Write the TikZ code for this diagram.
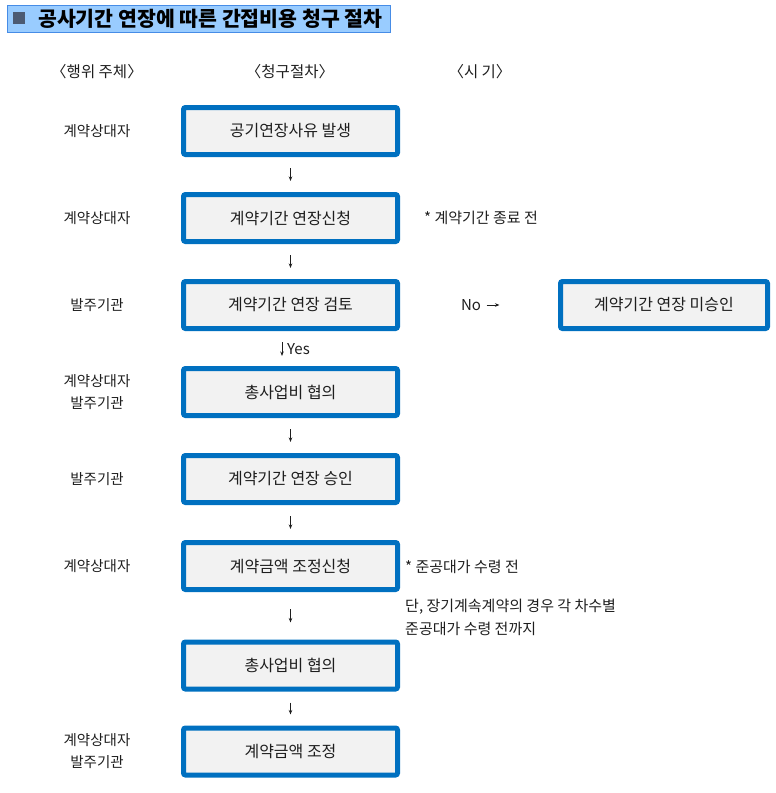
\documentclass[tikz,border=0pt]{standalone}
\usepackage{fontspec}
\setmainfont{Noto Sans CJK KR}
\usetikzlibrary{positioning,arrows.meta,calc}
\definecolor{boxblue}{RGB}{0,112,192}
\definecolor{boxfill}{RGB}{242,242,242}
\definecolor{textgray}{RGB}{30,30,30}
\definecolor{titlefill}{RGB}{153,204,255}
\definecolor{titleline}{RGB}{70,140,230}
\definecolor{markgray}{RGB}{76,91,115}
\begin{document}
\begin{tikzpicture}[x=1pt,y=-1pt,>={Stealth[length=4.5pt,width=3.5pt]},
  stepbox/.style={draw=boxblue,line width=5pt,fill=boxfill,rounded corners=2pt,minimum width=214pt,minimum height=47pt,inner sep=0pt,text=textgray,font=\fontsize{16}{18}\selectfont},
  actor/.style={align=center,text=textgray,font=\fontsize{14.5}{22}\selectfont},
  head/.style={text=textgray,font=\fontsize{15.5}{18}\selectfont},
  note/.style={anchor=west,inner sep=0pt,align=left,text=textgray,font=\fontsize{15}{23}\selectfont},
  flow/.style={->,line width=0.8pt,textgray,shorten >=11pt,shorten <=11pt},]
\useasboundingbox (0,0) rectangle (776,793);
\draw[titleline,fill=titlefill,line width=1pt] (7,5) rectangle (390,32);
\fill[markgray] (13,12) rectangle (25,24);
\node (title) at (38,18.5)[anchor=west,inner sep=0pt,font=\fontsize{20.5}{24}\selectfont\bfseries] {공사기간 연장에 따른 간접비용 청구 절차};
\node (h1) at (97,72)[head] {〈행위 주체〉};
\node (h2) at (290,72)[head] {〈청구절차〉};
\node (h3) at (480,72)[head] {〈시 기〉};
\node (s1) at (290.5,131)[stepbox] {공기연장사유 발생};
\node (s2) at (290.5,218)[stepbox] {계약기간 연장신청};
\node (s3) at (290.5,305)[stepbox] {계약기간 연장 검토};
\node (s4) at (290.5,392)[stepbox] {총사업비 협의};
\node (s5) at (290.5,479)[stepbox] {계약기간 연장 승인};
\node (s6) at (290.5,566)[stepbox] {계약금액 조정신청};
\node (s7) at (290.5,665.5)[stepbox] {총사업비 협의};
\node (s8) at (290.5,751.5)[stepbox] {계약금액 조정};
\node (r3) at (664,305)[stepbox,minimum width=207pt] {계약기간 연장 미승인};
\node (a1) at (97,131)[actor] {계약상대자};
\node (a2) at (97,218)[actor] {계약상대자};
\node (a3) at (97,305)[actor] {발주기관};
\node (a4) at (97,392)[actor] {계약상대자\\발주기관};
\node (a5) at (97,479)[actor] {발주기관};
\node (a6) at (97,566)[actor] {계약상대자};
\node (a8) at (97,751.5)[actor] {계약상대자\\발주기관};
\node (t2) at (424,218)[note] {* 계약기간 종료 전};
\node (t6) at (405,567)[note] {* 준공대가 수령 전};
\node (t7) at (405,617.5)[note] {단, 장기계속계약의 경우 각 차수별\\준공대가 수령 전까지};
\node (no) at (471,305)[head,font=\fontsize{15}{18}\selectfont] {No};
\node (yes) at (287,349)[note] {Yes};
\coordinate (yt) at (282,342);
\draw[->,line width=0.8pt,textgray] (no.east) ++(2,0) -- ++(13,0);
\draw[->,line width=0.8pt,textgray] (yt) -- ++(0,14);
\draw[flow] (s1) -- (s2);
\draw[flow] (s2) -- (s3);
\draw[flow] (s4) -- (s5);
\draw[flow] (s5) -- (s6);
\draw[flow,shorten >=17pt,shorten <=17pt] (s6) -- (s7);
\draw[flow] (s7) -- (s8);
\end{tikzpicture}
\end{document}
